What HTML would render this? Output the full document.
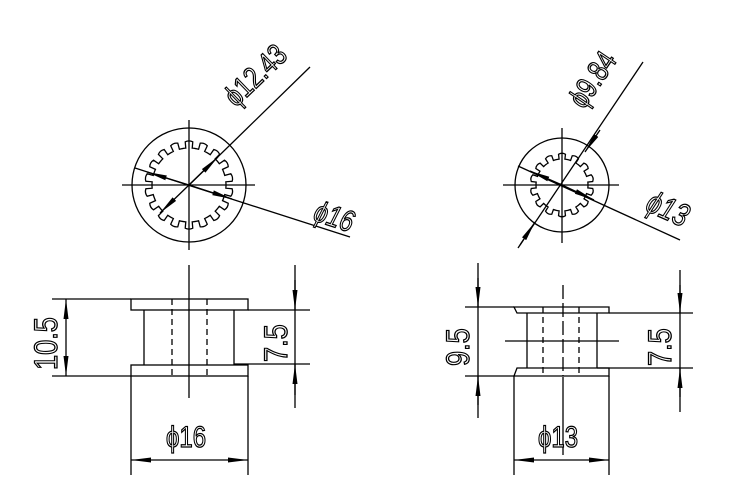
<!DOCTYPE html>
<html><head><meta charset="utf-8"><style>
html,body{margin:0;padding:0;background:#fff;}
svg{display:block;}
text{font-family:"Liberation Sans",sans-serif;fill:#fff;stroke:#000;stroke-width:1.3;}
</style></head><body>
<svg id="s" width="750" height="502" viewBox="0 0 750 502" xmlns="http://www.w3.org/2000/svg">
<defs>
<marker id="a" viewBox="0 0 20 6" refX="20" refY="3" markerWidth="20" markerHeight="6" markerUnits="userSpaceOnUse" orient="auto"><path d="M0,0.5 L20,3 L0,5.5z" fill="#000"/></marker>
</defs>
<g stroke="#000" stroke-width="1.3" fill="none">
<circle cx="189" cy="185" r="57"/>
<path id="g1"/>
<line x1="122" y1="185" x2="255" y2="185"/>
<line x1="189" y1="120" x2="189" y2="250"/>
<line x1="310" y1="67" x2="189" y2="185"/>
<line x1="189" y1="185" x2="218" y2="157" marker-end="url(#a)"/>
<line x1="189" y1="185" x2="160" y2="213" marker-end="url(#a)"/>
<line x1="135" y1="168" x2="350" y2="237"/>
<line x1="189" y1="185" x2="147" y2="172" marker-end="url(#a)"/>
<line x1="189" y1="185" x2="232" y2="199" marker-end="url(#a)"/>
<circle cx="562" cy="185" r="47"/>
<path id="g2"/>
<line x1="503" y1="185" x2="619" y2="185"/>
<line x1="562" y1="128" x2="562" y2="243"/>
<line x1="518" y1="248" x2="643" y2="62"/>
<line x1="600" y1="130" x2="585" y2="152" marker-end="url(#a)"/>
<line x1="520" y1="245" x2="535" y2="222" marker-end="url(#a)"/>
<line x1="518" y1="166" x2="680" y2="240"/>
<line x1="562" y1="185" x2="530" y2="171" marker-end="url(#a)"/>
<line x1="562" y1="185" x2="594" y2="200" marker-end="url(#a)"/>
<rect x="131" y="299" width="117" height="11"/>
<rect x="131" y="365" width="117" height="11"/>
<line x1="144" y1="310" x2="144" y2="365"/>
<line x1="234" y1="310" x2="234" y2="365"/>
<line x1="172" y1="299" x2="172" y2="376" stroke-dasharray="6,4"/>
<line x1="207" y1="299" x2="207" y2="376" stroke-dasharray="6,4"/>
<line x1="189" y1="265" x2="189" y2="398"/>
<line x1="131" y1="376" x2="131" y2="475"/>
<line x1="248" y1="376" x2="248" y2="475"/>
<line x1="160" y1="460" x2="131" y2="460" marker-end="url(#a)"/>
<line x1="220" y1="460" x2="248" y2="460" marker-end="url(#a)"/>
<line x1="160" y1="460" x2="220" y2="460"/>
<line x1="52" y1="299" x2="131" y2="299"/>
<line x1="52" y1="376" x2="131" y2="376"/>
<line x1="66" y1="338" x2="66" y2="299" marker-end="url(#a)"/>
<line x1="66" y1="338" x2="66" y2="376" marker-end="url(#a)"/>
<line x1="248" y1="310" x2="310" y2="310"/>
<line x1="234" y1="364" x2="310" y2="364"/>
<line x1="295" y1="265" x2="295" y2="408"/>
<line x1="295" y1="280" x2="295" y2="310" marker-end="url(#a)"/>
<line x1="295" y1="395" x2="295" y2="364" marker-end="url(#a)"/>
<path d="M514,307 H609 V313 H517 Z"/>
<path d="M517,368 H609 V376 H514 Z"/>
<line x1="527" y1="313" x2="527" y2="368"/>
<line x1="597" y1="313" x2="597" y2="368"/>
<line x1="543" y1="307" x2="543" y2="376" stroke-dasharray="6,4"/>
<line x1="579" y1="307" x2="579" y2="376" stroke-dasharray="6,4"/>
<line x1="563" y1="285" x2="563" y2="376" stroke-dasharray="14,4"/>
<line x1="563" y1="377" x2="563" y2="455"/>
<line x1="505" y1="341" x2="619" y2="341"/>
<line x1="514" y1="376" x2="514" y2="475"/>
<line x1="609" y1="376" x2="609" y2="475"/>
<line x1="540" y1="460" x2="514" y2="460" marker-end="url(#a)"/>
<line x1="583" y1="460" x2="609" y2="460" marker-end="url(#a)"/>
<line x1="540" y1="460" x2="583" y2="460"/>
<line x1="465" y1="307" x2="514" y2="307"/>
<line x1="465" y1="376" x2="514" y2="376"/>
<line x1="478" y1="263" x2="478" y2="418"/>
<line x1="478" y1="278" x2="478" y2="307" marker-end="url(#a)"/>
<line x1="478" y1="405" x2="478" y2="376" marker-end="url(#a)"/>
<line x1="609" y1="313" x2="693" y2="313"/>
<line x1="597" y1="368" x2="693" y2="368"/>
<line x1="680" y1="270" x2="680" y2="412"/>
<line x1="680" y1="285" x2="680" y2="313" marker-end="url(#a)"/>
<line x1="680" y1="397" x2="680" y2="368" marker-end="url(#a)"/>
</g>
<text font-size="30" transform="translate(236,108) rotate(-44) scale(0.8,1)">ϕ12.43</text>
<text font-size="30" font-style="italic" transform="translate(312,220) rotate(18) scale(0.8,1)">ϕ16</text>
<text font-size="30" transform="translate(584,110) rotate(-56) scale(0.8,1)">ϕ9.84</text>
<text font-size="32" font-style="italic" transform="translate(644,210) rotate(24) scale(0.8,1)">ϕ13</text>
<text font-size="30" transform="translate(166,447) scale(0.8,1)">ϕ16</text>
<text font-size="30" transform="translate(538,447) scale(0.8,1)">ϕ13</text>
<text font-size="32" transform="translate(57,370) rotate(-90) scale(0.85,1)">10.5</text>
<text font-size="32" transform="translate(287,362) rotate(-90) scale(0.85,1)">7.5</text>
<text font-size="32" transform="translate(469,366) rotate(-90) scale(0.85,1)">9.5</text>
<text font-size="32" transform="translate(671,366) rotate(-90) scale(0.85,1)">7.5</text>
</svg>
<script>
function gear(id,cx,cy,ri,ro,n){
 var d="",step=2*Math.PI/n;
 function p(r,a){return (cx+r*Math.cos(a)).toFixed(2)+","+(cy+r*Math.sin(a)).toFixed(2);}
 for(var i=0;i<n;i++){
  var a0=i*step, a1=a0+step*0.25, a3=a0+step*0.75, a4=a0+step;
  if(i==0)d+="M"+p(ri,a0);
  d+=" A"+ri+","+ri+" 0 0 1 "+p(ri,a1);
  var rr=(ro-ri);
  d+=" L"+p(ro-rr*0.3,a1)+" A"+(rr*0.9)+","+(rr*0.9)+" 0 0 1 "+p(ro-rr*0.3,a3)+" L"+p(ri,a3);
  d+=" A"+ri+","+ri+" 0 0 1 "+p(ri,a4);
 }
 document.getElementById(id).setAttribute("d",d+"Z");
}
gear("g1",189,185,37,46,18);
gear("g2",562,185,26,33,14);
</script>
</body></html>
